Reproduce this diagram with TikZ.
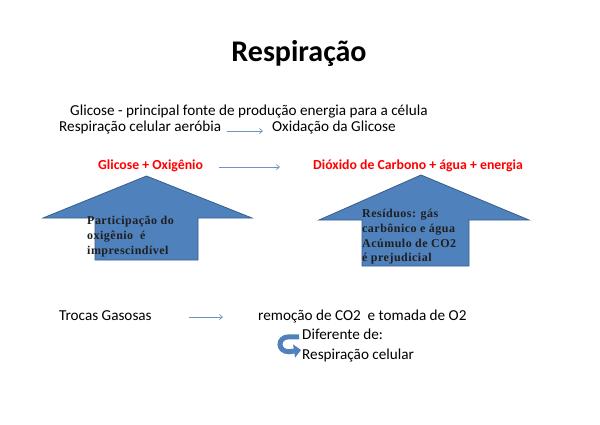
\documentclass[tikz,border=0pt]{standalone}
\usepackage{fontspec}
\setmainfont{Carlito}
\newfontfamily\blockfont[LetterSpace=4]{Liberation Serif}
\usetikzlibrary{positioning,arrows.meta}
\definecolor{slideblue}{RGB}{79,129,189}
\definecolor{slideedge}{RGB}{56,93,138}
\definecolor{slidered}{RGB}{255,0,0}

\begin{document}
\begin{tikzpicture}[x=1pt, y=-1pt,
  slidetxt/.style={anchor=base west, inner sep=0pt, font=\fontsize{15.2}{18}\selectfont},
  redtxt/.style={anchor=base west, inner sep=0pt, text=slidered, font=\bfseries\fontsize{13.8}{16}\selectfont},
  blocktxt/.style={anchor=north west, inner sep=0pt, align=left, text=black!88, font=\blockfont\bfseries\fontsize{12}{14.8}\selectfont},
  flow/.style={draw=slideblue!85, line width=0.7pt, -{Straight Barb[length=3pt,width=5pt]}},
  uparr/.style={fill=slideblue, draw=slideedge, line width=0.8pt},
  uturn/.style={draw=slideblue, line width=5pt, -{Triangle[width=13pt,length=7pt]}}]
  \useasboundingbox[fill=white] (0,0) rectangle (600,424);
  \node[anchor=base, inner sep=0pt, font=\bfseries\fontsize{30}{34}\selectfont] (title) at (299,61) {Respiração};
  \node[slidetxt] (glic) at (70,115) {Glicose - principal fonte de produção energia para a célula};
  \node[slidetxt] (aerob) at (59,131) {Respiração celular aeróbia};
  \node[slidetxt] (oxid) at (272,131) {Oxidação da Glicose};
  \draw[flow] ([xshift=6pt]aerob.base east) -- ([xshift=-9pt]oxid.base west);
  % reagentes e produtos
  \node[redtxt] (reag) at (98,169.5) {Glicose + Oxigênio};
  \node[redtxt] (prod) at (313,169.5) {Dióxido de Carbono + água + energia};
  \draw[flow] ([shift={(16pt,2.5pt)}]reag.base east) -- ([shift={(-33pt,2.5pt)}]prod.base west);
  % setas largas
  \draw[uparr] (146.5,176) -- (252,218) -- (198,218) -- (198,260) -- (95,260) -- (95,218) -- (43,218) -- cycle;
  \draw[uparr] (421,175) -- (529,220) -- (469,220) -- (469,266) -- (362,266) -- (362,220) -- (319,220) -- cycle;
  \node[blocktxt] (partic) at (87,216) {Participação do\\oxigênio\ \ é\\imprescindível};
  \node[blocktxt] (resid) at (362,209) {Resíduos: gás\\carbônico e água\\Acúmulo de CO2\\é prejudicial};
  % trocas gasosas
  \node[slidetxt] (troca) at (59,320) {Trocas Gasosas};
  \node[slidetxt] (remo) at (258,320) {remoção de CO2\ \ e tomada de O2};
  \draw[flow] ([shift={(37pt,3pt)}]troca.base east) -- ([shift={(-35pt,3pt)}]remo.base west);
  \node[slidetxt] (dif) at (302,339.5) {Diferente de:};
  \node[slidetxt] (cel) at (302,359) {Respiração celular};
  \draw[uturn] ([shift={(-3,2.5)}]dif.west) -- ++(-10,0) .. controls +(-12,0) and +(-12,0) .. ++(0,15) -- ([shift={(-1,-5)}]cel.west);
\end{tikzpicture}
\end{document}
